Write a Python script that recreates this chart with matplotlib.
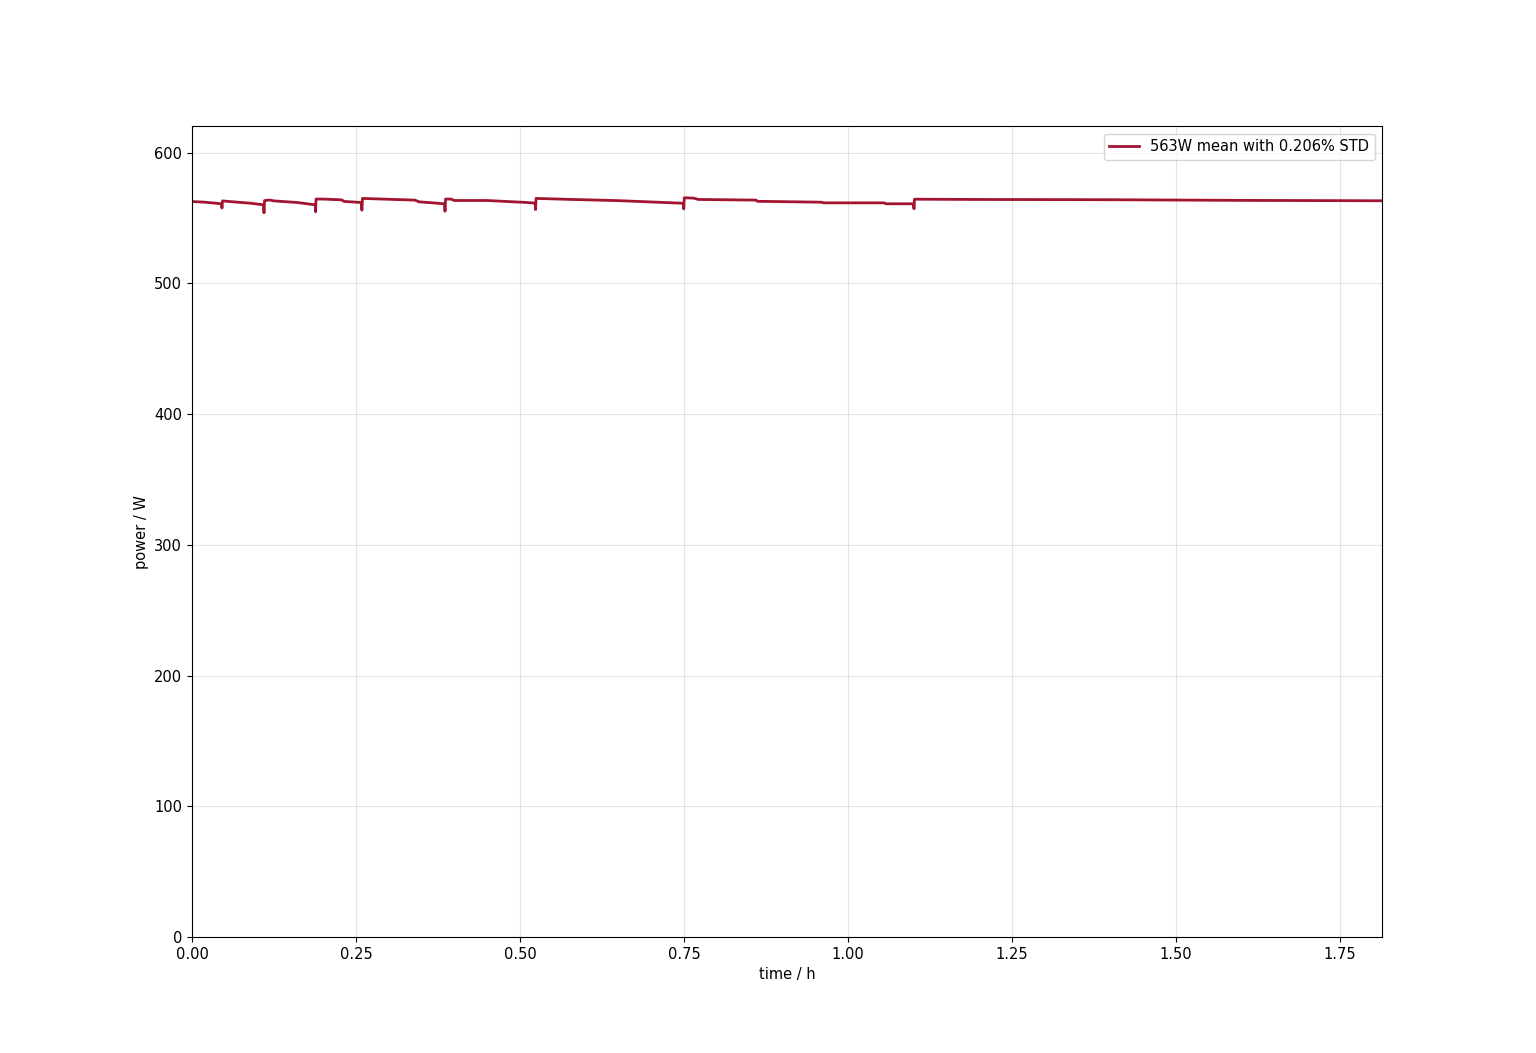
import numpy as np
import matplotlib
matplotlib.use('Agg')
import matplotlib.pyplot as plt

plt.rcParams['font.size'] = 10.5

# time (h) and power (W)
time_h = [0.000, 0.020, 0.045, 0.0457, 0.0465, 0.060, 0.090, 0.109, 0.1098, 0.1106, 0.118, 0.125,
          0.160, 0.188, 0.1883, 0.1891, 0.200, 0.228, 0.232, 0.258, 0.2591, 0.2599, 0.290, 0.340,
          0.346, 0.385, 0.3858, 0.3866, 0.395, 0.400, 0.450, 0.510, 0.523, 0.5238, 0.5246, 0.580,
          0.650, 0.749, 0.7498, 0.7506, 0.765, 0.772, 0.860, 0.862, 0.960, 0.963, 1.055, 1.058,
          1.100, 1.1008, 1.1016, 1.200, 1.400, 1.600, 1.815]
power_w = [562.5, 562.0, 560.8, 557.5, 563.0, 562.4, 561.2, 560.0, 553.9, 563.2, 563.7, 563.0,
           561.8, 560.0, 554.6, 564.4, 564.4, 563.8, 562.6, 561.8, 555.9, 564.9, 564.4, 563.6,
           562.3, 560.8, 555.1, 564.4, 564.4, 563.3, 563.3, 561.8, 561.3, 556.4, 564.9, 564.1,
           563.2, 561.2, 556.9, 565.4, 565.1, 564.1, 563.6, 562.7, 562.0, 561.5, 561.5, 560.8,
           560.8, 557.0, 564.3, 564.1, 563.9, 563.4, 563.1]

label = '563W mean with 0.206% STD'

fig, ax = plt.subplots(figsize=(15.36, 10.53), dpi=100)
ax.plot(time_h, power_w, color='#A2142F', lw=2, label=label)
ax.set_xlim(0, 1.815)
ax.set_ylim(0, 620)
ax.set_xticks(np.arange(0, 1.8, 0.25))
ax.set_yticks(np.arange(0, 601, 100))
ax.grid(True, color='#d9d9d9', lw=0.8, alpha=0.7)
ax.set_xlabel('time / h')
ax.set_ylabel('power / W')
ax.legend(loc='upper right')

plt.savefig('out.png', dpi=100)
